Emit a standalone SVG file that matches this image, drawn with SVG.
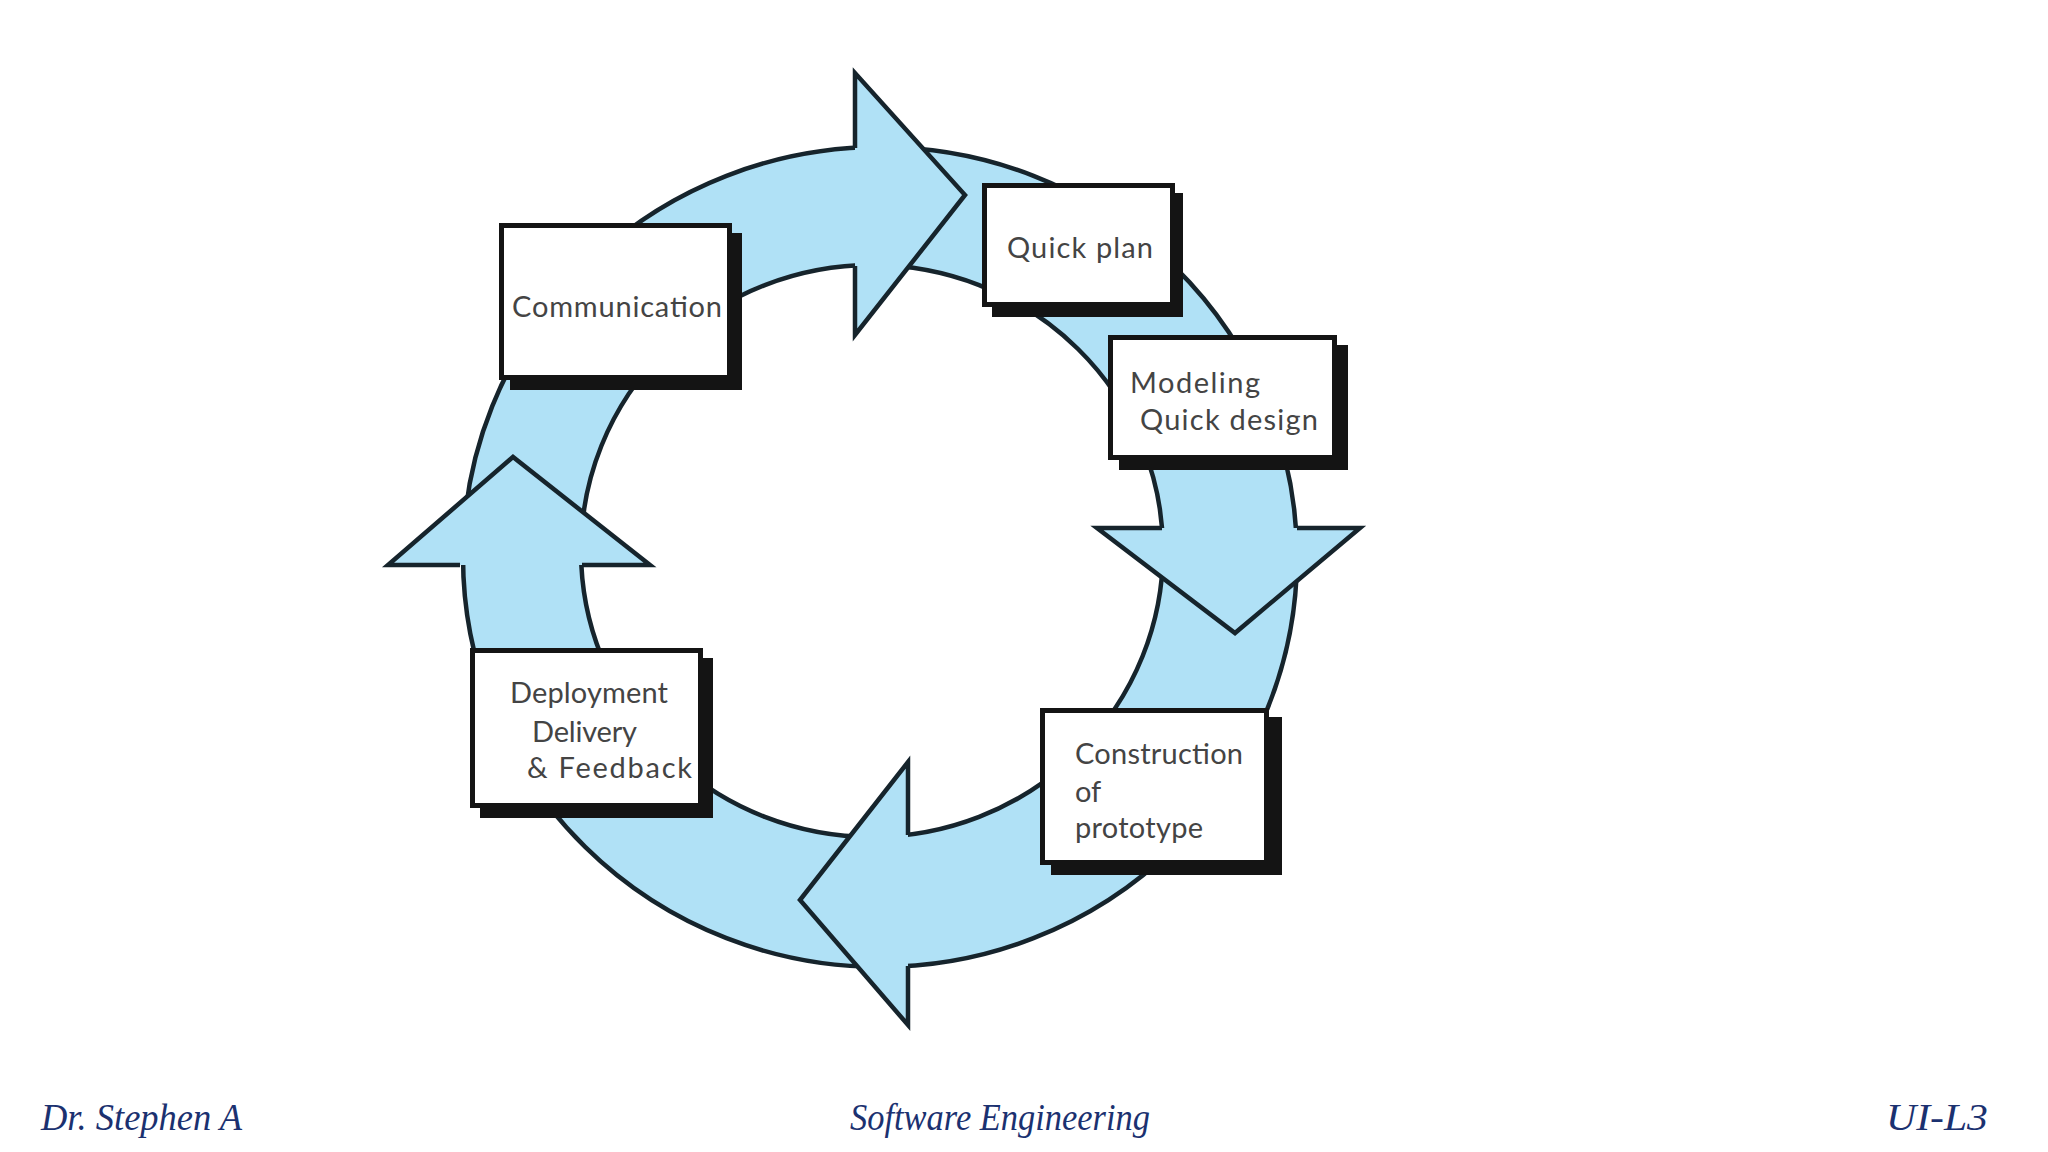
<svg xmlns="http://www.w3.org/2000/svg" width="2048" height="1152" viewBox="0 0 2048 1152">
<style>
.ring{fill:#b0e1f6;stroke:#16242c;stroke-width:4.5;fill-rule:evenodd;stroke-linejoin:miter}
.head{fill:#b0e1f6;stroke:#16242c;stroke-width:4.5;stroke-linejoin:miter;stroke-linecap:butt}
.shadow{fill:#141414}
.box{fill:#ffffff;stroke:#141414;stroke-width:5}
.lbl{font-family:Lato,"Open Sans","Liberation Sans",sans-serif;font-size:29px;fill:#444444}
.foot{font-family:"Liberation Serif",serif;font-style:italic;font-size:37px;fill:#1b3170}
</style>
<rect width="2048" height="1152" fill="#ffffff"/>
<g id="connectors">
<path class="ring" d="M463,557 a417,410 0 1,0 834,0 a417,410 0 1,0 -834,0 Z M581,551 a291,286 0 1,0 582,0 a291,286 0 1,0 -582,0 Z"/>
<path class="head" d="M855,148 L855,73 L965,195 L855,335 L855,266"/>
<path class="head" d="M1162,528 L1097,528 L1235,633 L1360,528 L1297,528"/>
<path class="head" d="M908,835 L908,762 L800,900 L908,1025 L908,966"/>
<path class="head" d="M460,565 L388,565 L513,457 L650,565 L582,565"/>
</g>
<g id="communication">
<rect class="shadow" x="510" y="233" width="232" height="157"/>
<rect class="box" x="501.5" y="225.5" width="228" height="152"/>
<text class="lbl" x="512" y="317" textLength="210" lengthAdjust="spacing">Communication</text>
</g>
<g id="quick-plan">
<rect class="shadow" x="992" y="193" width="191" height="124"/>
<rect class="box" x="984.5" y="185.5" width="188" height="119"/>
<text class="lbl" x="1007" y="258" textLength="146" lengthAdjust="spacing">Quick plan</text>
</g>
<g id="modeling">
<rect class="shadow" x="1119" y="345" width="229" height="125"/>
<rect class="box" x="1110.5" y="337.5" width="224" height="120"/>
<text class="lbl" x="1130" y="393" textLength="130" lengthAdjust="spacing">Modeling</text>
<text class="lbl" x="1140" y="430" textLength="178" lengthAdjust="spacing">Quick design</text>
</g>
<g id="construction">
<rect class="shadow" x="1051" y="717" width="231" height="158"/>
<rect class="box" x="1042.5" y="710.5" width="224" height="152"/>
<text class="lbl" x="1075" y="764" textLength="168" lengthAdjust="spacing">Construction</text>
<text class="lbl" x="1075" y="802">of</text>
<text class="lbl" x="1075" y="838" textLength="128" lengthAdjust="spacing">prototype</text>
</g>
<g id="deployment">
<rect class="shadow" x="480" y="658" width="233" height="160"/>
<rect class="box" x="472.5" y="650.5" width="228" height="155"/>
<text class="lbl" x="510" y="703" textLength="158" lengthAdjust="spacing">Deployment</text>
<text class="lbl" x="532" y="742" textLength="105" lengthAdjust="spacing">Delivery</text>
<text class="lbl" x="527" y="778" textLength="165" lengthAdjust="spacing">&amp; Feedback</text>
</g>
<g id="footer">
<text class="foot" x="41" y="1130" textLength="201" lengthAdjust="spacingAndGlyphs">Dr. Stephen A</text>
<text class="foot" x="850" y="1130" textLength="300" lengthAdjust="spacingAndGlyphs">Software Engineering</text>
<text class="foot" x="1886" y="1130" textLength="102" lengthAdjust="spacingAndGlyphs">UI-L3</text>
</g>
</svg>
